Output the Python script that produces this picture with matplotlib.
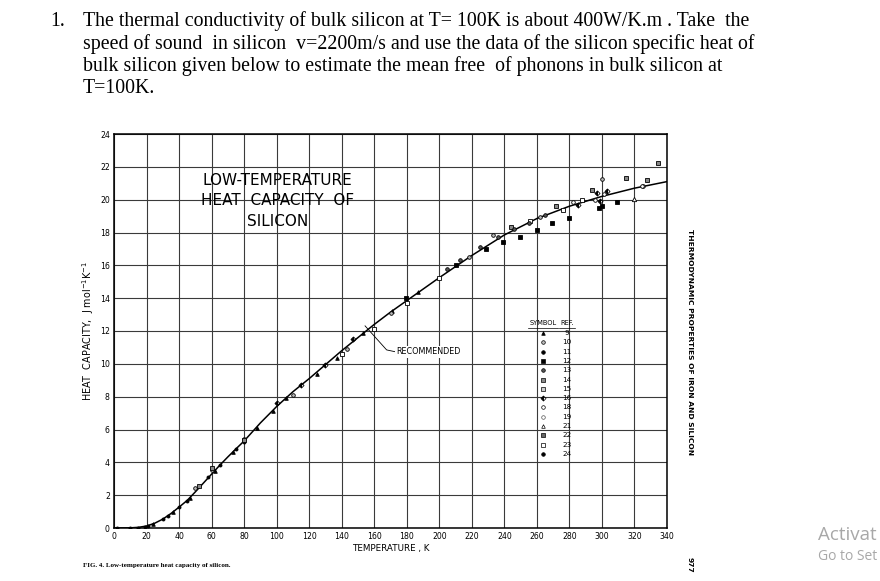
import numpy as np
import matplotlib
matplotlib.use("Agg")
import matplotlib.pyplot as plt
from matplotlib.patches import Rectangle

# ---------------- data ----------------
curve_T = [0, 10, 15, 20, 25, 30, 35, 40, 45, 50, 55, 60, 65, 70, 75, 80, 90, 100, 110, 120,
           130, 140, 150, 160, 170, 180, 190, 200, 220, 240, 260, 280, 300, 320, 340]
curve_cp = [0.0, 0.01, 0.04, 0.12, 0.29, 0.54, 0.88, 1.27, 1.68, 2.2, 2.74, 3.28, 3.82, 4.33, 4.82, 5.3,
            6.4, 7.4, 8.3, 9.1, 9.95, 10.8, 11.6, 12.4, 13.15, 13.85, 14.55, 15.25, 16.6, 17.85, 18.85,
            19.6, 20.2, 20.7, 21.1]

ref9_T = [24, 36, 47, 62, 73, 88, 98, 106, 125, 137, 153, 171, 187]
ref9_cp = [0.25, 1.0, 1.85, 3.45, 4.6, 6.1, 7.1, 7.9, 9.4, 10.35, 11.9, 13.2, 14.4]
ref11_T = [2, 10, 15, 19, 21, 30, 33, 40, 45, 58, 65, 75, 80]
ref11_cp = [0.02, 0.02, 0.03, 0.08, 0.15, 0.55, 0.72, 1.27, 1.66, 3.1, 3.85, 4.8, 5.25]
ref10_T = [50, 60, 80, 110, 143, 170, 218, 233, 262, 300, 325]
ref10_cp = [2.45, 3.55, 5.4, 8.1, 10.9, 13.1, 16.5, 17.83, 18.95, 21.25, 20.85]
ref12_T = [179.5, 210, 229, 239, 249.5, 260, 269.4, 279.7, 298, 300, 309.4]
ref12_cp = [14.0, 16.0, 16.97, 17.4, 17.74, 18.15, 18.55, 18.9, 19.5, 19.6, 19.84]
ref22_T = [52, 60, 80, 244, 271.5, 294, 314.7, 327.4, 334.5]
ref22_cp = [2.55, 3.65, 5.35, 18.35, 19.6, 20.6, 21.3, 21.2, 22.25]
ref21_T = [319.8]
ref21_cp = [20.04]
ref18_T = [282, 296, 301, 324.7]
ref18_cp = [19.85, 20.0, 20.35, 20.85]
ref16_T = [100, 115, 130, 147, 285, 297, 299, 303]
ref16_cp = [7.6, 8.7, 9.9, 11.5, 19.7, 20.4, 19.9, 20.5]
ref23_T = [140, 160, 180, 200, 256, 276, 288]
ref23_cp = [10.6, 12.1, 13.7, 15.2, 18.7, 19.4, 19.95]
ref13_T = [205, 213, 225, 236, 246, 255, 265]
ref13_cp = [15.8, 16.3, 17.1, 17.7, 18.2, 18.6, 19.05]

x_ticks = list(range(0, 341, 20))
y_ticks = list(range(0, 25, 2))

legend_refs = ['9', '10', '11', '12', '13', '14', '15', '16', '18', '19', '21', '22', '23', '24']

# ---------------- figure ----------------
W, H = 880, 581
fig = plt.figure(figsize=(W / 100, H / 100), dpi=100)
fig.patch.set_facecolor('white')


def fp(x, y):
    return (x / W, 1 - y / H)


# problem text
serif = ['Liberation Serif', 'DejaVu Serif']
lines = ["The thermal conductivity of bulk silicon at T= 100K is about 400W/K.m . Take  the",
         "speed of sound  in silicon  v=2200m/s and use the data of the silicon specific heat of",
         "bulk silicon given below to estimate the mean free  of phonons in bulk silicon at",
         "T=100K."]
baselines = [26, 48.5, 71, 93.5]
fig.text(*fp(50, baselines[0]), "1.", family=serif, fontsize=14.3, va='baseline', ha='left')
for ln, b in zip(lines, baselines):
    fig.text(*fp(83, b), ln, family=serif, fontsize=14.3, va='baseline', ha='left')

# axes
x0, x1, y0, y1 = 114, 667, 528, 134
ax = fig.add_axes([x0 / W, 1 - y0 / H, (x1 - x0) / W, (y0 - y1) / H])
ax.set_xlim(0, 340)
ax.set_ylim(0, 24)
ax.set_xticks(x_ticks)
ax.set_yticks(y_ticks)
ax.set_xticklabels([str(t) for t in x_ticks])
ax.set_yticklabels([str(t) for t in y_ticks])
ax.tick_params(length=0, labelsize=5.6, pad=3, colors='black')
ax.grid(True, color='#3a3a3a', lw=0.8)
for s in ax.spines.values():
    s.set_linewidth(1.1)
    s.set_color('black')

# white boxes breaking the grid
ax.add_patch(Rectangle((0.134, 0.736), 0.318, 0.198, transform=ax.transAxes,
                       facecolor='white', edgecolor='none', zorder=1.5))
ax.add_patch(Rectangle((0.740, 0.165), 0.106, 0.376, transform=ax.transAxes,
                       facecolor='white', edgecolor='none', zorder=1.5))

# curve
ax.plot(curve_T, curve_cp, color='black', lw=1.1, zorder=3)

ms = 2.6
mk = dict(ls='none', zorder=4, markeredgewidth=0.6)
ax.plot(ref9_T, ref9_cp, marker='^', color='black', ms=ms, **mk)
ax.plot(ref11_T, ref11_cp, marker='o', color='black', ms=2.2, **mk)
ax.plot(ref10_T, ref10_cp, marker='o', mfc='#bbbbbb', mec='black', ms=ms, **mk)
ax.plot(ref12_T, ref12_cp, marker='s', color='black', ms=ms + 0.3, **mk)
ax.plot(ref22_T, ref22_cp, marker='s', mfc='#888888', mec='black', ms=ms + 0.3, **mk)
ax.plot(ref21_T, ref21_cp, marker='^', mfc='white', mec='black', ms=ms + 0.5, **mk)
ax.plot(ref18_T, ref18_cp, marker='o', mfc='white', mec='black', ms=ms, **mk)
ax.plot(ref16_T, ref16_cp, marker='D', fillstyle='left', color='black', ms=ms, **mk)
ax.plot(ref23_T, ref23_cp, marker='s', mfc='white', mec='black', ms=ms, **mk)
ax.plot(ref13_T, ref13_cp, marker='o', mfc='#555555', mec='black', ms=ms, **mk)

# title in plot
ax.text(0.296, 0.83, "LOW-TEMPERATURE\nHEAT  CAPACITY  OF\nSILICON", transform=ax.transAxes,
        ha='center', va='center', fontsize=11, linespacing=1.45, zorder=5,
        family='DejaVu Sans')

# recommended label
ax.plot([0.454, 0.493, 0.508], [0.513, 0.452, 0.4475], transform=ax.transAxes,
        color='black', lw=0.6, zorder=5)
ax.text(0.511, 0.4475, "RECOMMENDED", transform=ax.transAxes, ha='left', va='center',
        fontsize=5.8, zorder=5, bbox=dict(facecolor='white', edgecolor='none', pad=1.0))

# symbol legend table
sx, rx = 0.776, 0.819
ax.text(sx, 0.521, "SYMBOL", transform=ax.transAxes, ha='center', va='center', fontsize=4.8,
        zorder=5)
ax.text(rx, 0.521, "REF.", transform=ax.transAxes, ha='center', va='center', fontsize=4.8,
        zorder=5)
ax.plot([0.749, 0.803], [0.508, 0.508], transform=ax.transAxes, color='black', lw=0.5, zorder=5)
ax.plot([0.804, 0.834], [0.508, 0.508], transform=ax.transAxes, color='black', lw=0.5, zorder=5)
leg_style = [dict(marker='^', color='black'),
             dict(marker='o', mfc='#bbbbbb', mec='black'),
             dict(marker='o', color='black'),
             dict(marker='s', color='black'),
             dict(marker='o', mfc='#555555', mec='black'),
             dict(marker='s', mfc='#888888', mec='black'),
             dict(marker='s', mfc='#cccccc', mec='black'),
             dict(marker='D', fillstyle='left', color='black'),
             dict(marker='o', mfc='white', mec='black'),
             dict(marker='o', mfc='white', mec='#555555'),
             dict(marker='^', mfc='white', mec='black'),
             dict(marker='s', mfc='#666666', mec='black'),
             dict(marker='s', mfc='white', mec='black'),
             dict(marker='o', color='black')]
for i, (ref, st) in enumerate(zip(legend_refs, leg_style)):
    yy = 0.495 - 0.02363 * i
    ax.plot([sx], [yy], transform=ax.transAxes, ls='none', ms=2.6, markeredgewidth=0.5,
            zorder=5, **st)
    ax.text(rx, yy, ref, transform=ax.transAxes, ha='center', va='center', fontsize=5.2,
            zorder=5)

# axis labels
fig.text(*fp(391, 549), "TEMPERATURE , K", ha='center', va='center', fontsize=6.3)
fig.text(*fp(88, 331), r"HEAT  CAPACITY,  J mol$^{-1}$K$^{-1}$", rotation=90,
         ha='center', va='center', fontsize=6.9)

# side texts
fig.text(*fp(690, 342), "THERMODYNAMIC PROPERTIES OF IRON AND SILICON", rotation=-90,
         ha='center', va='center', fontsize=5.4, fontweight='bold')
fig.text(*fp(690, 565), "977", rotation=-90, ha='center', va='center', fontsize=5.4,
         fontweight='bold')

# caption
fig.text(*fp(83, 565), "FIG. 4. Low-temperature heat capacity of silicon.", family=serif,
         fontsize=5.0, fontweight='bold', ha='left', va='center')

# watermark
fig.text(*fp(818, 535), "Activat", fontsize=13.5, color='#a8a8a8', ha='left', va='center',
         family='Open Sans')
fig.text(*fp(818, 556), "Go to Set", fontsize=10, color='#a8a8a8', ha='left', va='center',
         family='Open Sans')

fig.savefig("out.png", dpi=100, facecolor='white')
